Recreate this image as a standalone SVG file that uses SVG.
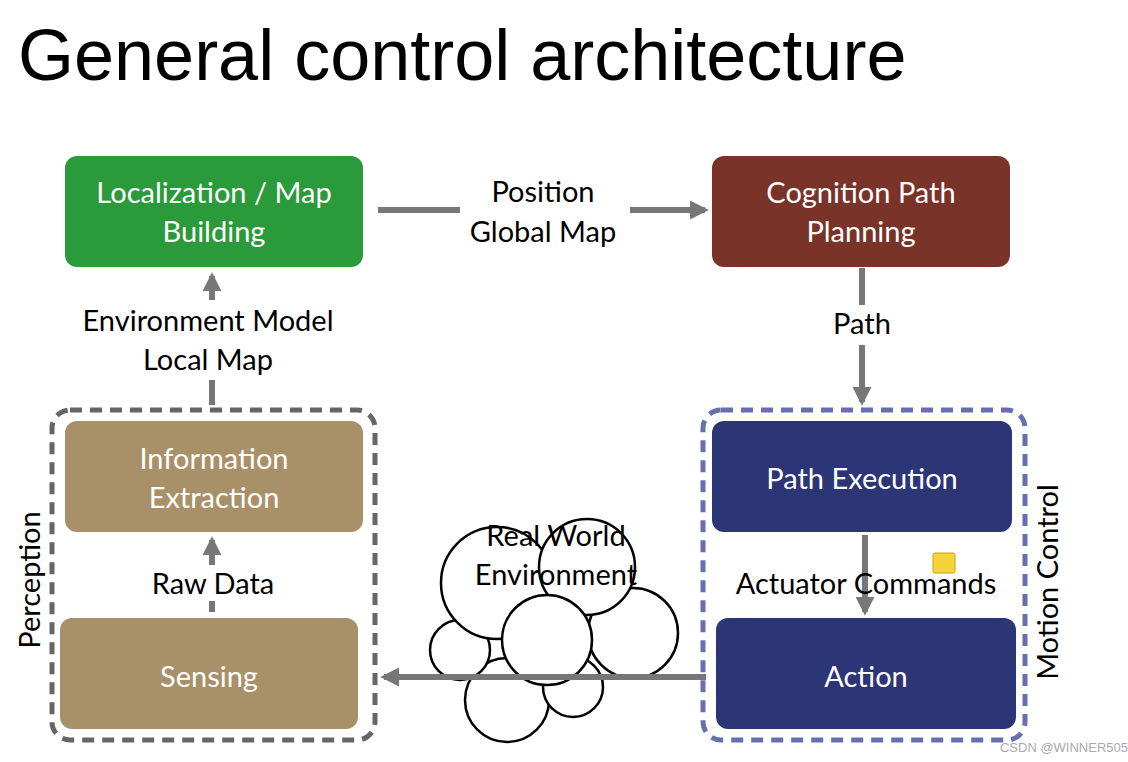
<svg xmlns="http://www.w3.org/2000/svg" width="1128" height="762" viewBox="0 0 1128 762">
<defs>
<marker id="ah" viewBox="0 0 10 10" refX="8" refY="5" markerWidth="3.2" markerHeight="3.2" orient="auto"><path d="M0,0 L10,5 L0,10 z" fill="#777"/></marker>
</defs>
<style>
.t{font-family:"Lato","Liberation Sans",sans-serif;font-size:29px;text-anchor:middle}
.w{fill:#fff}
.c{stroke:#777;stroke-width:6;fill:none;marker-end:url(#ah)}
.cl{fill:#fff;stroke:#000;stroke-width:2.5}
</style>
<rect width="1128" height="762" fill="#fff"/>
<text x="18" y="80" font-family="Liberation Sans, sans-serif" font-size="72" fill="#000">General control architecture</text>
<g id="perception-box"><rect x="52" y="410" width="323" height="330" rx="18" fill="none" stroke="#666" stroke-width="5" stroke-dasharray="12,8"/>
<text class="t" transform="translate(40,580) rotate(-90)">Perception</text></g>
<g id="motion-box"><rect x="703" y="410" width="322" height="330" rx="18" fill="none" stroke="#6670b0" stroke-width="5" stroke-dasharray="12,8"/>
<text class="t" transform="translate(1058,582) rotate(-90)">Motion Control</text></g>
<g id="cloud">
<circle class="cl" cx="507" cy="700" r="42"/><circle class="cl" cx="573" cy="687" r="30"/>
<circle class="cl" cx="460" cy="650" r="30"/><circle class="cl" cx="633" cy="633" r="45"/>
<circle class="cl" cx="497" cy="583" r="56"/><circle class="cl" cx="587" cy="567" r="48"/>
<circle class="cl" cx="547" cy="640" r="45"/>
<text class="t" x="556" y="546" font-size="28">Real World</text><text class="t" x="556" y="585" font-size="28">Environment</text>
</g>
<g id="connectors">
<line class="c" x1="378" y1="210" x2="705" y2="210"/>
<line class="c" x1="862" y1="268" x2="862" y2="402"/>
<line class="c" x1="212" y1="405" x2="212" y2="276"/>
<line class="c" x1="212" y1="612" x2="212" y2="540"/>
<line class="c" x1="865" y1="535" x2="865" y2="612"/>
<line class="c" x1="706" y1="677" x2="384" y2="677"/>
</g>
<g id="n-loc"><rect x="65" y="156" width="298" height="111" rx="12" fill="#2a9a3a"/><text class="t w" x="214" y="203">Localization / Map</text><text class="t w" x="214" y="242">Building</text></g>
<g id="n-cog"><rect x="712" y="156" width="298" height="111" rx="12" fill="#7a3328"/><text class="t w" x="861" y="203">Cognition Path</text><text class="t w" x="861" y="242">Planning</text></g>
<g id="n-info"><rect x="65" y="421" width="298" height="111" rx="12" fill="#a89068"/><text class="t w" x="214" y="469">Information</text><text class="t w" x="214" y="508">Extraction</text></g>
<g id="n-sense"><rect x="60" y="618" width="298" height="111" rx="12" fill="#a89068"/><text class="t w" x="209" y="687">Sensing</text></g>
<g id="n-pe"><rect x="712" y="421" width="300" height="111" rx="12" fill="#2c3575"/><text class="t w" x="862" y="489">Path Execution</text></g>
<g id="n-act"><rect x="716" y="618" width="300" height="111" rx="12" fill="#2c3575"/><text class="t w" x="866" y="687">Action</text></g>
<g id="labels">
<rect x="460" y="178" width="170" height="70" fill="#fff"/>
<text class="t" x="543" y="202">Position</text><text class="t" x="543" y="242">Global Map</text>
<rect x="825" y="305" width="75" height="40" fill="#fff"/>
<text class="t" x="862" y="334">Path</text>
<rect x="65" y="300" width="290" height="80" fill="#fff"/>
<text class="t" x="208" y="331">Environment Model</text><text class="t" x="208" y="370">Local Map</text>
<rect x="140" y="565" width="145" height="36" fill="#fff"/>
<text class="t" x="213" y="594">Raw Data</text>
<text class="t" x="866" y="594">Actuator Commands</text>
</g>
<rect x="933" y="553" width="22" height="20" rx="2" fill="#f5d33a" stroke="#c9a400"/>
<text x="1128" y="752" text-anchor="end" font-family="Liberation Sans, sans-serif" font-size="13" fill="#aaa">CSDN @WINNER505</text>
</svg>
